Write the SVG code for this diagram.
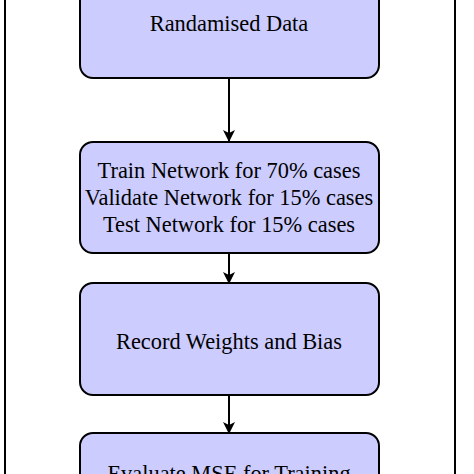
<svg xmlns="http://www.w3.org/2000/svg" width="474" height="474" viewBox="0 0 474 474">
<style>
.box{fill:#ccccff;stroke:#000;stroke-width:2}
.t{font-family:"Liberation Serif","Times New Roman",serif;font-size:22.4px;fill:#000;text-anchor:middle}
.c{stroke:#000;stroke-width:2;fill:none}
</style>
<defs>
<marker id="ah" viewBox="0 0 12 12" refX="11" refY="6" markerWidth="12" markerHeight="12" markerUnits="userSpaceOnUse" orient="auto">
<path d="M0,0 L12,6 L0,12 L3,6 Z" fill="#000"/>
</marker>
</defs>
<rect x="0" y="0" width="474" height="474" fill="#fff"/>
<g id="frame">
<line x1="5" y1="0" x2="5" y2="474" stroke="#000" stroke-width="2"/>
<line x1="455" y1="0" x2="455" y2="474" stroke="#000" stroke-width="2"/>
</g>
<g id="connectors">
<line class="c" x1="229" y1="78" x2="229" y2="141" marker-end="url(#ah)"/>
<line class="c" x1="229" y1="253" x2="229" y2="283" marker-end="url(#ah)"/>
<line class="c" x1="229" y1="395" x2="229" y2="433" marker-end="url(#ah)"/>
</g>
<g id="n1">
<rect class="box" x="80" y="-40" width="299" height="118" rx="13"/>
<text class="t" x="229" y="31">Randamised Data</text>
</g>
<g id="n2">
<rect class="box" x="80" y="142" width="299" height="111" rx="13"/>
<text class="t" x="229" y="178">Train Network for 70% cases</text>
<text class="t" x="229" y="205">Validate Network for 15% cases</text>
<text class="t" x="229" y="232">Test Network for 15% cases</text>
</g>
<g id="n3">
<rect class="box" x="80" y="283" width="299" height="112" rx="13"/>
<text class="t" x="229" y="349">Record Weights and Bias</text>
</g>
<g id="n4">
<rect class="box" x="80" y="433" width="299" height="100" rx="13"/>
<text class="t" x="229" y="481">Evaluate MSE for Training</text>
</g>
</svg>
